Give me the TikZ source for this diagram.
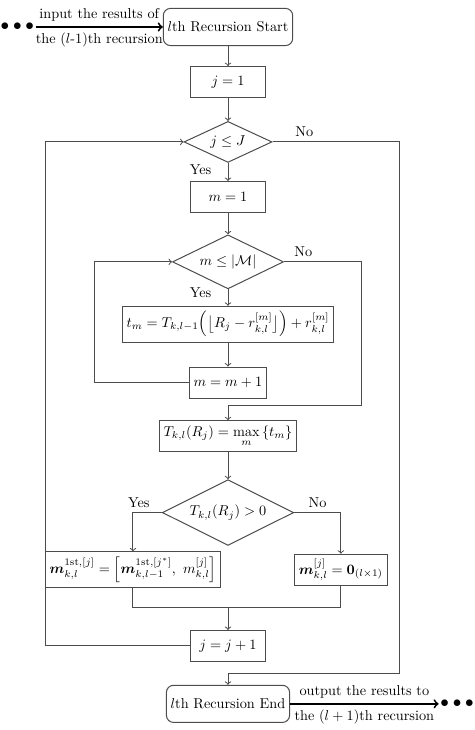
\documentclass[tikz,border=0pt]{standalone}
\usepackage{amsmath,amssymb,bm}
\usetikzlibrary{shapes.geometric, positioning, calc}

\tikzset{
  process/.style={rectangle, draw=black!70, line width=0.7pt, minimum width=53pt, minimum height=21.7pt, inner sep=3pt},
  decision/.style={diamond, draw=black!70, line width=0.7pt, inner sep=0pt, aspect=2},
  terminal/.style={rectangle, rounded corners=5pt, draw=black!70, line width=0.7pt, minimum height=26pt, inner sep=3pt},
  flow/.style={->, draw=black!70, line width=0.7pt},
  link/.style={draw=black!70, line width=0.7pt},
  bigflow/.style={->, line width=1.3pt},
}

\begin{document}
\begin{tikzpicture}

        \node[terminal] (start) {$l$th Recursion Start};
        \useasboundingbox ($(start.center)+(-159.6pt,18.9pt)$) rectangle +(331.8pt,-511pt);
        \node[process] (jinit) [below=14pt of start] {$j=1$};
        \node[decision, minimum width=61.6pt, minimum height=28.7pt] (jcheck) [below=16pt of jinit] {$j\le J$};
        \node[process] (minit) [below=12.6pt of jcheck] {$m=1$};
        \node[decision, minimum width=77.7pt, minimum height=37.8pt] (mcheck) [below=15pt of minit] {$m\le|\mathcal{M}|$};
        \node[process, minimum height=25pt] (tcalc) [below=11.5pt of mcheck] {$t_m=T_{k,l-1}\Big(\big\lfloor R_j-r_{k,l}^{[m]}\big\rfloor\Big)+r_{k,l}^{[m]}$};
        \node[process] (minc) [below=16.8pt of tcalc] {$m=m+1$};
        \node[process] (tmax) [below=15.2pt of minc] {$T_{k,l}(R_j)=\max\limits_{m}\,\{t_m\}$};
        \node[decision, minimum width=92pt, minimum height=46pt] (tcheck) [below=18.9pt of tmax] {$T_{k,l}(R_j)>0$};
        \node[process, minimum height=25pt, xshift=-66.5pt, yshift=-40pt] (mupd) at (tcheck) {$\bm{m}_{k,l}^{\mathrm{1st},[j]}=\Big[\bm{m}_{k,l-1}^{\mathrm{1st},[j^*]},\ m_{k,l}^{[j]}\Big]$};
        \node[process, xshift=79pt, yshift=-40pt] (mzero) at (tcheck) {$\bm{m}_{k,l}^{[j]}=\mathbf{0}_{(l\times1)}$};
        \node[process] (jinc) [below=58.8pt of tcheck] {$j=j+1$};
        \node[terminal] (finish) [below=16pt of jinc] {$l$th Recursion End};

        \node[inner sep=1pt] (indots) [left=89pt of start] {\large$\bullet\bullet\bullet$};
        \node[inner sep=1pt] (outdots) [right=104pt of finish] {\large$\bullet\bullet\bullet$};

        % loop corners
        \coordinate[right=89pt of jcheck] (outr);
        \coordinate[left=101pt of jinc] (outl);
        \coordinate[right=54pt of mcheck] (innr);
        \coordinate[left=66pt of minc] (innl);
        \coordinate[above=15.4pt of jinc] (jmerge);

        \draw[bigflow] (indots) -- node[above]{input the results of} node[below]{the ($l$-1)th recursion} (start);
        \draw[bigflow] (finish) -- node[above]{output the results to} node[below]{the $(l+1)$th recursion} (outdots);

        \draw[flow] (start) -- (jinit);
        \draw[flow] (jinit) -- (jcheck);
        \draw[flow] (jcheck) -- node[left=8pt, pos=.4]{Yes} (minit);
        \draw[flow] (minit) -- (mcheck);
        \draw[flow] (mcheck) -- node[left=8pt, pos=.2]{Yes} (tcalc);
        \draw[flow] (tcalc) -- (minc);
        \draw[flow] (minc.west) -- (innl) |- (mcheck.west);
        \draw[flow] (mcheck.east) -- node[above, pos=.25]{No} (innr) |- ([yshift=10.5pt]tmax.north) -- (tmax.north);
        \draw[flow] (tmax) -- (tcheck);
        \draw[flow] (tcheck.west) -| node[above, pos=.4]{Yes} (mupd.north);
        \draw[flow] (tcheck.east) -| node[above, pos=.25]{No} (mzero.north);
        \draw[link] (mupd.south) |- (jmerge) -| (mzero.south);
        \draw[flow] (jmerge) -- (jinc);
        \draw[flow] (jinc.west) -- (outl) |- (jcheck.west);
        \draw[flow] (jcheck.east) -- node[above, pos=.25]{No} (outr) |- ([yshift=7.7pt]finish.north) -- (finish.north);

\end{tikzpicture}
\end{document}
